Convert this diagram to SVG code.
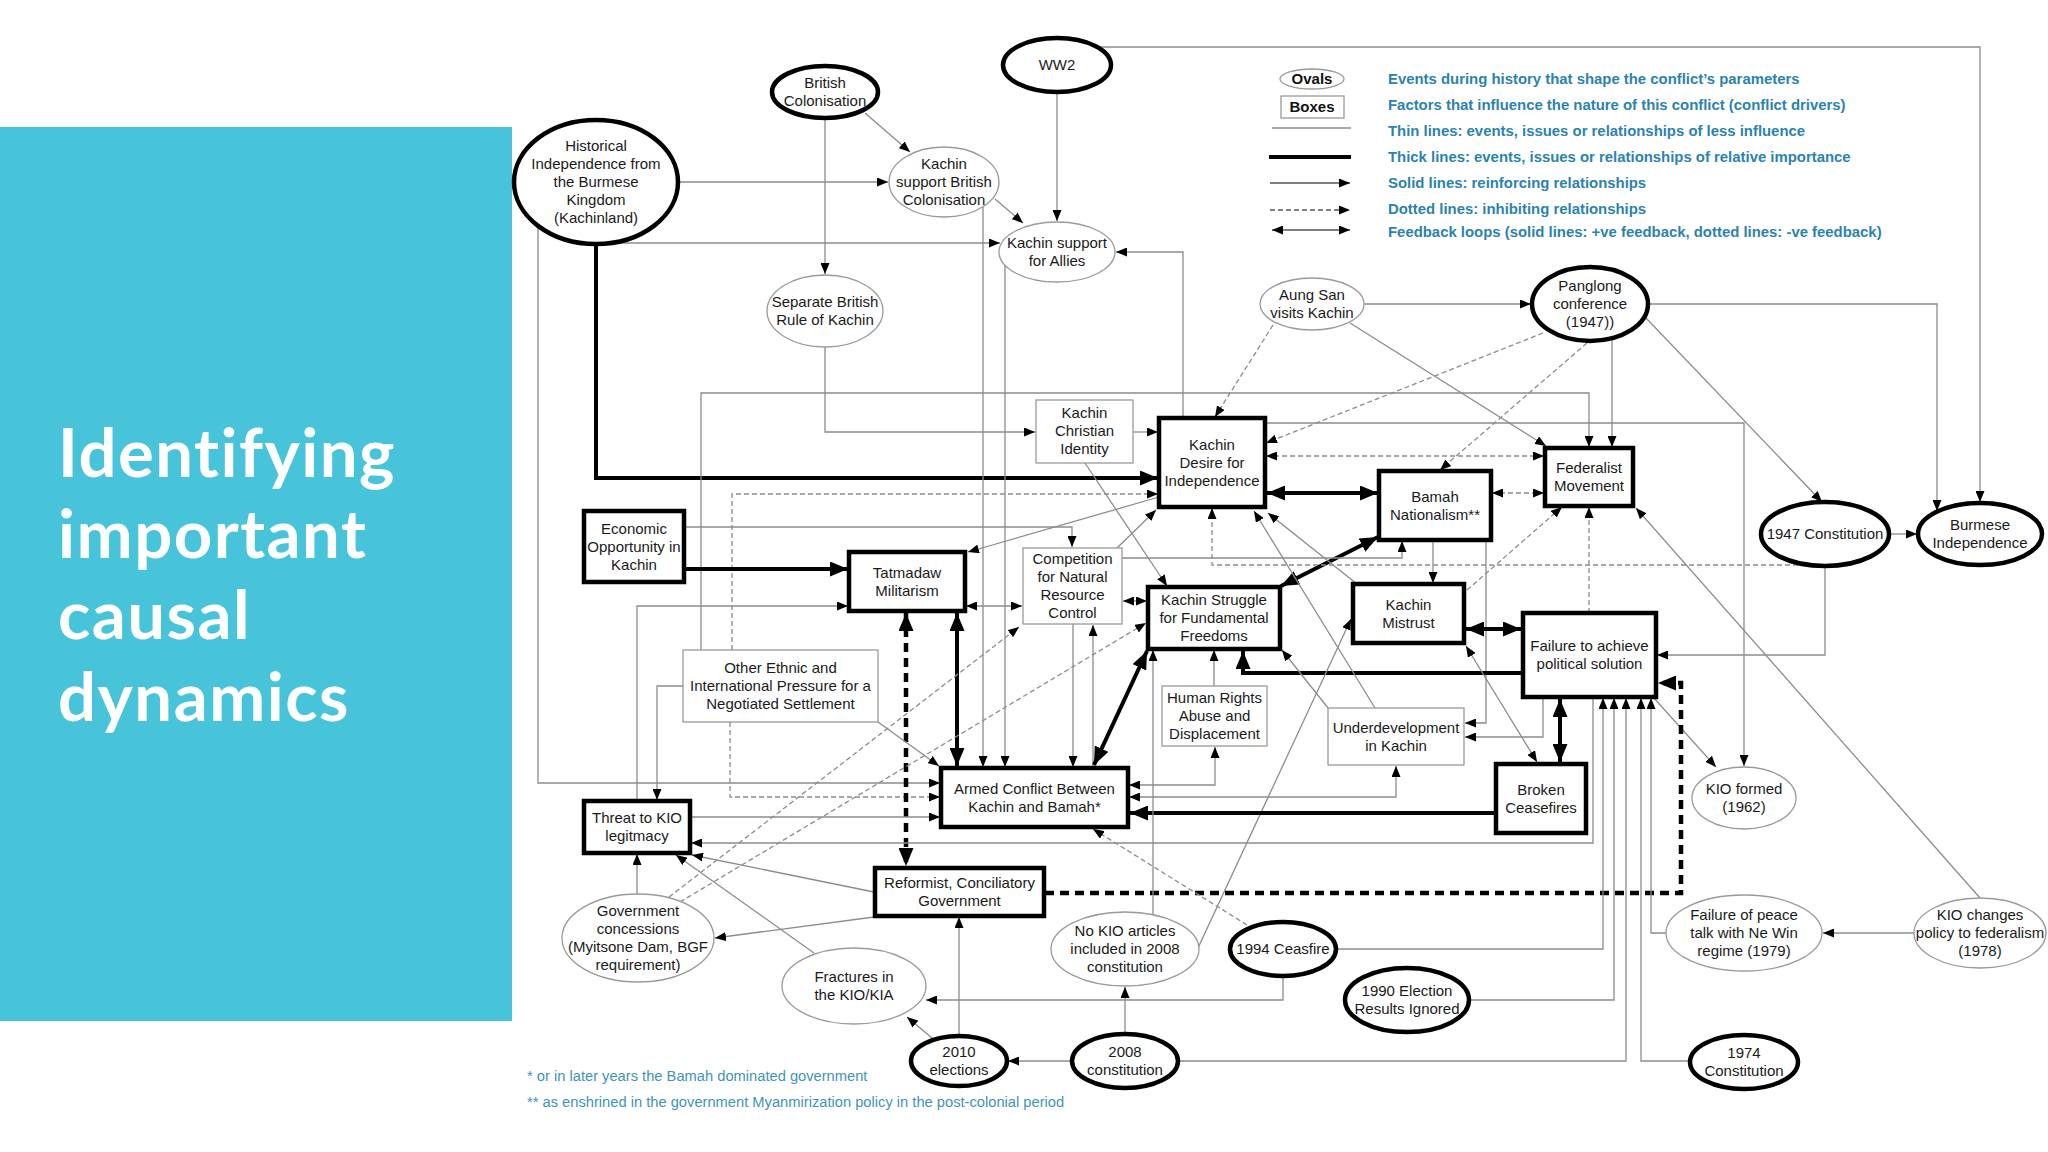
<svg xmlns="http://www.w3.org/2000/svg" width="2048" height="1152" viewBox="0 0 2048 1152">
<style>
.t{font-family:"Liberation Sans",Arial,sans-serif;font-size:15px;text-anchor:middle;fill:#1a1a1a}
.lg{font-family:"Liberation Sans",Arial,sans-serif;font-size:14.9px;font-weight:bold;fill:#2b83ad}
.lb{font-family:"Liberation Sans",Arial,sans-serif;font-size:15px;font-weight:bold;text-anchor:middle;fill:#111}
.fn{font-family:"Liberation Sans",Arial,sans-serif;font-size:14.7px;fill:#3f94b6}
.ti{font-family:Lato,"Open Sans",sans-serif;font-size:67px;font-weight:700;letter-spacing:1.5px;fill:#fff}
.nt{fill:#fff;stroke:#9a9a9a;stroke-width:1.3}
.nk{fill:#fff;stroke:#000;stroke-width:4.5}
.c{fill:none;stroke:#8c8c8c;stroke-width:1.3}
.d{stroke-dasharray:5 3}
.k{fill:none;stroke:#000;stroke-width:4}
.kd{fill:none;stroke:#000;stroke-width:4.5;stroke-dasharray:9 6}
</style>
<defs>
<marker id="a" viewBox="0 0 11 9" refX="11" refY="4.5" markerWidth="11" markerHeight="9" markerUnits="userSpaceOnUse" orient="auto-start-reverse"><path d="M0,0L11,4.5L0,9z" fill="#000"/></marker>
<marker id="A" viewBox="0 0 18 15" refX="18" refY="7.5" markerWidth="18" markerHeight="15" markerUnits="userSpaceOnUse" orient="auto-start-reverse"><path d="M0,0L18,7.5L0,15z" fill="#000"/></marker>
</defs>
<rect width="2048" height="1152" fill="#fff"/>
<rect x="0" y="127" width="512" height="894" fill="#47c3da"/>
<text class="ti" x="58" y="477"><tspan x="58">Identifying</tspan><tspan x="58" dy="81">important</tspan><tspan x="58" dy="81">causal</tspan><tspan x="58" dy="82">dynamics</tspan></text>

<g id="legend">
<ellipse cx="1312" cy="79" rx="32" ry="10" class="nt"/>
<text class="lb" x="1312" y="84">Ovals</text>
<rect x="1281" y="96" width="63" height="22" class="nt"/>
<text class="lb" x="1312" y="112">Boxes</text>
<path class="c" d="M1272,128H1351"/>
<path class="k" d="M1269,157H1351"/>
<path class="c" style="stroke:#555" d="M1270,183H1350" marker-end="url(#a)"/>
<path class="c d" style="stroke:#555" d="M1270,210H1350" marker-end="url(#a)"/>
<path class="c" style="stroke:#555" d="M1272,230H1350" marker-start="url(#a)" marker-end="url(#a)"/>
<text class="lg" x="1388" y="84">Events during history that shape the conflict’s parameters</text>
<text class="lg" x="1388" y="110">Factors that influence the nature of this conflict (conflict drivers)</text>
<text class="lg" x="1388" y="136">Thin lines: events, issues or relationships of less influence</text>
<text class="lg" x="1388" y="162">Thick lines: events, issues or relationships of relative importance</text>
<text class="lg" x="1388" y="188">Solid lines: reinforcing relationships</text>
<text class="lg" x="1388" y="214">Dotted lines: inhibiting relationships</text>
<text class="lg" x="1388" y="237">Feedback loops (solid lines: +ve feedback, dotted lines: -ve feedback)</text>
</g>

<g id="connectors">
<path class="c" d="M865,113L910,152" marker-end="url(#a)"/>
<path class="c" d="M825,118V274" marker-end="url(#a)"/>
<path class="c" d="M678,182H888" marker-end="url(#a)"/>
<path class="c" d="M612,243H1000" marker-end="url(#a)"/>
<path class="c" d="M995,199L1023,223" marker-end="url(#a)"/>
<path class="c" d="M1057,92V221" marker-end="url(#a)"/>
<path class="c" d="M1183,418V252H1116" marker-end="url(#a)"/>
<path class="c" d="M538,226V783H940" marker-end="url(#a)"/>
<path class="k" d="M596,244V478H1158" marker-end="url(#A)"/>
<path class="c" d="M825,347V432H1035" marker-end="url(#a)"/>
<path class="c" d="M1133,432H1158" marker-end="url(#a)"/>
<path class="c" d="M1085,463L1167,586" marker-end="url(#a)"/>
<path class="c" d="M701,650V393H1589V447" marker-end="url(#a)"/>
<path class="c" d="M1612,340V447" marker-end="url(#a)"/>
<path class="c" d="M1265,423H1744V766" marker-end="url(#a)"/>
<path class="c d" d="M1543,333L1266,443" marker-end="url(#a)"/>
<path class="c d" d="M1587,343L1440,470" marker-end="url(#a)"/>
<path class="c d" d="M1273,325L1215,417" marker-end="url(#a)"/>
<path class="c" d="M1350,323L1546,446" marker-end="url(#a)"/>
<path class="c" d="M1364,304H1531" marker-end="url(#a)"/>
<path class="c" d="M1646,318L1822,502" marker-end="url(#a)"/>
<path class="c" d="M1100,47H1980V502" marker-end="url(#a)"/>
<path class="c" d="M1648,304H1937V511" marker-end="url(#a)"/>
<path class="c" d="M1889,534H1917" marker-end="url(#a)"/>
<path class="k" d="M1267,493H1378" marker-start="url(#A)" marker-end="url(#A)"/>
<path class="c d" d="M1492,493H1544" marker-start="url(#a)" marker-end="url(#a)"/>
<path class="c d" d="M1266,456H1544" marker-start="url(#a)" marker-end="url(#a)"/>
<path class="c" d="M1433,540V583" marker-end="url(#a)"/>
<path class="k" d="M1281,586L1378,537" marker-start="url(#A)" marker-end="url(#A)"/>
<path class="c" d="M1122,558H1402V541" marker-end="url(#a)"/>
<path class="c" d="M1486,540V723H1465" marker-end="url(#a)"/>
<path class="c" d="M1543,697V737H1465" marker-end="url(#a)"/>
<path class="c d" d="M1467,590L1562,507" marker-end="url(#a)"/>
<path class="c d" d="M1589,613V507" marker-end="url(#a)"/>
<path class="c" d="M1980,898L1636,508" marker-end="url(#a)"/>
<path class="c d" d="M1798,565H1212V508" marker-end="url(#a)"/>
<path class="c" d="M1653,697L1716,767" marker-end="url(#a)"/>
<path class="c" d="M1825,566V655H1657" marker-end="url(#a)"/>
<path class="kd" d="M1045,893H1681V683H1658" marker-end="url(#A)"/>
<path class="k" d="M1560,699V762" marker-start="url(#A)" marker-end="url(#A)"/>
<path class="k" d="M1523,673H1243V651" marker-end="url(#A)"/>
<path class="k" d="M1466,629H1521" marker-start="url(#A)" marker-end="url(#A)"/>
<path class="c" d="M1198,948L1351,619" marker-end="url(#a)"/>
<path class="k" d="M1496,813H1130" marker-end="url(#A)"/>
<path class="c" d="M1129,785H1215V747" marker-start="url(#a)" marker-end="url(#a)"/>
<path class="c" d="M1129,797H1396V766" marker-start="url(#a)" marker-end="url(#a)"/>
<path class="c" d="M1214,686V650" marker-end="url(#a)"/>
<path class="c d" d="M1123,601H1147" marker-start="url(#a)" marker-end="url(#a)"/>
<path class="c" d="M966,606H1022" marker-start="url(#a)" marker-end="url(#a)"/>
<path class="c" d="M1159,497L968,552" marker-end="url(#a)"/>
<path class="c d" d="M732,650V494H1158" marker-end="url(#a)"/>
<path class="c d" d="M730,722V797H940" marker-end="url(#a)"/>
<path class="c" d="M684,527H1072V547" marker-end="url(#a)"/>
<path class="k" d="M684,569H848" marker-end="url(#A)"/>
<path class="c" d="M637,801V606H848" marker-end="url(#a)"/>
<path class="c" d="M683,686H657V800" marker-end="url(#a)"/>
<path class="k" d="M957,613V766" marker-start="url(#A)" marker-end="url(#A)"/>
<path class="kd" d="M906,613V866" marker-start="url(#A)" marker-end="url(#A)"/>
<path class="c d" d="M669,897L1019,627" marker-end="url(#a)"/>
<path class="c d" d="M680,902L1146,623" marker-end="url(#a)"/>
<path class="c" d="M878,722L939,766" marker-end="url(#a)"/>
<path class="c" d="M1117,548L1156,510" marker-end="url(#a)"/>
<path class="c" d="M1375,708L1254,511" marker-end="url(#a)"/>
<path class="c" d="M1328,708L1282,650" marker-end="url(#a)"/>
<path class="c" d="M1357,584L1268,513" marker-end="url(#a)"/>
<path class="c" d="M1537,762L1466,646" marker-start="url(#a)" marker-end="url(#a)"/>
<path class="c" d="M983,207V767" marker-end="url(#a)"/>
<path class="c" d="M1005,265V767" marker-end="url(#a)"/>
<path class="c" d="M1073,624V767" marker-end="url(#a)"/>
<path class="c" d="M1093,767V625" marker-end="url(#a)"/>
<path class="k" d="M1094,765L1147,651" marker-start="url(#A)" marker-end="url(#A)"/>
<path class="c" d="M1153,915V650" marker-end="url(#a)"/>
<path class="c d" d="M1247,925L1093,829" marker-end="url(#a)"/>
<path class="c" d="M690,817H940" marker-end="url(#a)"/>
<path class="c" d="M1593,697V843H691" marker-end="url(#a)"/>
<path class="c" d="M874,892L692,855" marker-end="url(#a)"/>
<path class="c" d="M814,953L676,855" marker-end="url(#a)"/>
<path class="c" d="M637,894V854" marker-end="url(#a)"/>
<path class="c" d="M874,917L715,938" marker-end="url(#a)"/>
<path class="c" d="M959,1036V917" marker-end="url(#a)"/>
<path class="c" d="M932,1038L907,1017" marker-end="url(#a)"/>
<path class="c" d="M1283,976V1000H926" marker-end="url(#a)"/>
<path class="c" d="M1072,1061H1008" marker-end="url(#a)"/>
<path class="c" d="M1125,1034V987" marker-end="url(#a)"/>
<path class="c" d="M1178,1061H1626V698" marker-end="url(#a)"/>
<path class="c" d="M1336,949H1603V698" marker-end="url(#a)"/>
<path class="c" d="M1469,1000H1614V698" marker-end="url(#a)"/>
<path class="c" d="M1690,1061H1641V698" marker-end="url(#a)"/>
<path class="c" d="M1666,933H1651V698" marker-end="url(#a)"/>
<path class="c" d="M1914,933H1823" marker-end="url(#a)"/>
</g>

<g id="n-british"><ellipse cx="825" cy="92" rx="53" ry="26" class="nk"/><text class="t" x="825" y="88"><tspan x="825">British</tspan><tspan x="825" dy="18">Colonisation</tspan></text></g>
<g id="n-ww2"><ellipse cx="1057" cy="65" rx="54" ry="27" class="nk"/><text class="t" x="1057" y="70">WW2</text></g>
<g id="n-hist"><ellipse cx="596" cy="182" rx="82" ry="62" class="nk"/><text class="t" x="596" y="151"><tspan x="596">Historical</tspan><tspan x="596" dy="18">Independence from</tspan><tspan x="596" dy="18">the Burmese</tspan><tspan x="596" dy="18">Kingdom</tspan><tspan x="596" dy="18">(Kachinland)</tspan></text></g>
<g id="n-ksbc"><ellipse cx="944" cy="182" rx="55" ry="35" class="nt"/><text class="t" x="944" y="169"><tspan x="944">Kachin</tspan><tspan x="944" dy="18">support British</tspan><tspan x="944" dy="18">Colonisation</tspan></text></g>
<g id="n-allies"><ellipse cx="1057" cy="252" rx="58" ry="30" class="nt"/><text class="t" x="1057" y="248"><tspan x="1057">Kachin support</tspan><tspan x="1057" dy="18">for Allies</tspan></text></g>
<g id="n-separate"><ellipse cx="825" cy="311" rx="58" ry="36" class="nt"/><text class="t" x="825" y="307"><tspan x="825">Separate British</tspan><tspan x="825" dy="18">Rule of Kachin</tspan></text></g>
<g id="n-aungsan"><ellipse cx="1312" cy="304" rx="52" ry="26" class="nt"/><text class="t" x="1312" y="300"><tspan x="1312">Aung San</tspan><tspan x="1312" dy="18">visits Kachin</tspan></text></g>
<g id="n-panglong"><ellipse cx="1590" cy="304" rx="58" ry="37" class="nk"/><text class="t" x="1590" y="291"><tspan x="1590">Panglong</tspan><tspan x="1590" dy="18">conference</tspan><tspan x="1590" dy="18">(1947))</tspan></text></g>
<g id="n-1947"><ellipse cx="1825" cy="534" rx="64" ry="32" class="nk"/><text class="t" x="1825" y="539">1947 Constitution</text></g>
<g id="n-burmese"><ellipse cx="1980" cy="534" rx="62" ry="31" class="nk"/><text class="t" x="1980" y="530"><tspan x="1980">Burmese</tspan><tspan x="1980" dy="18">Independence</tspan></text></g>
<g id="n-concessions"><ellipse cx="638" cy="938" rx="76" ry="44" class="nt"/><text class="t" x="638" y="916"><tspan x="638">Government</tspan><tspan x="638" dy="18">concessions</tspan><tspan x="638" dy="18">(Myitsone Dam, BGF</tspan><tspan x="638" dy="18">requirement)</tspan></text></g>
<g id="n-fractures"><ellipse cx="854" cy="986" rx="72" ry="38" class="nt"/><text class="t" x="854" y="982"><tspan x="854">Fractures in</tspan><tspan x="854" dy="18">the KIO/KIA</tspan></text></g>
<g id="n-2010"><ellipse cx="959" cy="1061" rx="48" ry="25" class="nk"/><text class="t" x="959" y="1057"><tspan x="959">2010</tspan><tspan x="959" dy="18">elections</tspan></text></g>
<g id="n-2008"><ellipse cx="1125" cy="1061" rx="53" ry="27" class="nk"/><text class="t" x="1125" y="1057"><tspan x="1125">2008</tspan><tspan x="1125" dy="18">constitution</tspan></text></g>
<g id="n-nokio"><ellipse cx="1125" cy="949" rx="74" ry="37" class="nt"/><text class="t" x="1125" y="936"><tspan x="1125">No KIO articles</tspan><tspan x="1125" dy="18">included in 2008</tspan><tspan x="1125" dy="18">constitution</tspan></text></g>
<g id="n-1994"><ellipse cx="1283" cy="949" rx="53" ry="27" class="nk"/><text class="t" x="1283" y="954">1994 Ceasfire</text></g>
<g id="n-1990"><ellipse cx="1407" cy="1000" rx="62" ry="32" class="nk"/><text class="t" x="1407" y="996"><tspan x="1407">1990 Election</tspan><tspan x="1407" dy="18">Results Ignored</tspan></text></g>
<g id="n-kioformed"><ellipse cx="1744" cy="798" rx="52" ry="31" class="nt"/><text class="t" x="1744" y="794"><tspan x="1744">KIO formed</tspan><tspan x="1744" dy="18">(1962)</tspan></text></g>
<g id="n-peacetalk"><ellipse cx="1744" cy="933" rx="78" ry="38" class="nt"/><text class="t" x="1744" y="920"><tspan x="1744">Failure of peace</tspan><tspan x="1744" dy="18">talk with Ne Win</tspan><tspan x="1744" dy="18">regime (1979)</tspan></text></g>
<g id="n-kiochanges"><ellipse cx="1980" cy="933" rx="66" ry="35" class="nt"/><text class="t" x="1980" y="920"><tspan x="1980">KIO changes</tspan><tspan x="1980" dy="18">policy to federalism</tspan><tspan x="1980" dy="18">(1978)</tspan></text></g>
<g id="n-1974"><ellipse cx="1744" cy="1062" rx="54" ry="27" class="nk"/><text class="t" x="1744" y="1058"><tspan x="1744">1974</tspan><tspan x="1744" dy="18">Constitution</tspan></text></g>

<g id="n-desire"><rect x="1159" y="418" width="106" height="89" class="nk"/><text class="t" x="1212" y="450"><tspan x="1212">Kachin</tspan><tspan x="1212" dy="18">Desire for</tspan><tspan x="1212" dy="18">Independence</tspan></text></g>
<g id="n-christian"><rect x="1036" y="400" width="97" height="63" class="nt"/><text class="t" x="1084.5" y="418"><tspan x="1084.5">Kachin</tspan><tspan x="1084.5" dy="18">Christian</tspan><tspan x="1084.5" dy="18">Identity</tspan></text></g>
<g id="n-competition"><rect x="1023" y="548" width="99" height="76" class="nt"/><text class="t" x="1072.5" y="564"><tspan x="1072.5">Competition</tspan><tspan x="1072.5" dy="18">for Natural</tspan><tspan x="1072.5" dy="18">Resource</tspan><tspan x="1072.5" dy="18">Control</tspan></text></g>
<g id="n-struggle"><rect x="1148" y="587" width="132" height="62" class="nk"/><text class="t" x="1214" y="605"><tspan x="1214">Kachin Struggle</tspan><tspan x="1214" dy="18">for Fundamental</tspan><tspan x="1214" dy="18">Freedoms</tspan></text></g>
<g id="n-humanrights"><rect x="1162" y="686" width="105" height="60" class="nt"/><text class="t" x="1214.5" y="703"><tspan x="1214.5">Human Rights</tspan><tspan x="1214.5" dy="18">Abuse and</tspan><tspan x="1214.5" dy="18">Displacement</tspan></text></g>
<g id="n-tatmadaw"><rect x="849" y="552" width="116" height="59" class="nk"/><text class="t" x="907" y="577.5"><tspan x="907">Tatmadaw</tspan><tspan x="907" dy="18">Militarism</tspan></text></g>
<g id="n-economic"><rect x="584" y="511" width="100" height="71" class="nk"/><text class="t" x="634" y="533.5"><tspan x="634">Economic</tspan><tspan x="634" dy="18">Opportunity in</tspan><tspan x="634" dy="18">Kachin</tspan></text></g>
<g id="n-otherethnic"><rect x="683" y="650" width="195" height="72" class="nt"/><text class="t" x="780.5" y="673"><tspan x="780.5">Other Ethnic and</tspan><tspan x="780.5" dy="18">International Pressure for a</tspan><tspan x="780.5" dy="18">Negotiated Settlement</tspan></text></g>
<g id="n-bamah"><rect x="1379" y="471" width="112" height="69" class="nk"/><text class="t" x="1435" y="501.5"><tspan x="1435">Bamah</tspan><tspan x="1435" dy="18">Nationalism**</tspan></text></g>
<g id="n-federalist"><rect x="1545" y="448" width="88" height="58" class="nk"/><text class="t" x="1589" y="473"><tspan x="1589">Federalist</tspan><tspan x="1589" dy="18">Movement</tspan></text></g>
<g id="n-mistrust"><rect x="1353" y="584" width="111" height="59" class="nk"/><text class="t" x="1408.5" y="609.5"><tspan x="1408.5">Kachin</tspan><tspan x="1408.5" dy="18">Mistrust</tspan></text></g>
<g id="n-failure"><rect x="1523" y="613" width="133" height="84" class="nk"/><text class="t" x="1589.5" y="651"><tspan x="1589.5">Failure to achieve</tspan><tspan x="1589.5" dy="18">political solution</tspan></text></g>
<g id="n-underdev"><rect x="1328" y="708" width="136" height="57" class="nt"/><text class="t" x="1396" y="732.5"><tspan x="1396">Underdevelopment</tspan><tspan x="1396" dy="18">in Kachin</tspan></text></g>
<g id="n-broken"><rect x="1496" y="764" width="90" height="69" class="nk"/><text class="t" x="1541" y="794.5"><tspan x="1541">Broken</tspan><tspan x="1541" dy="18">Ceasefires</tspan></text></g>
<g id="n-armed"><rect x="941" y="768" width="187" height="59" class="nk"/><text class="t" x="1034.5" y="793.5"><tspan x="1034.5">Armed Conflict Between</tspan><tspan x="1034.5" dy="18">Kachin and Bamah*</tspan></text></g>
<g id="n-reformist"><rect x="875" y="868" width="169" height="48" class="nk"/><text class="t" x="959.5" y="888"><tspan x="959.5">Reformist, Conciliatory</tspan><tspan x="959.5" dy="18">Government</tspan></text></g>
<g id="n-threat"><rect x="584" y="801" width="106" height="52" class="nk"/><text class="t" x="637" y="823"><tspan x="637">Threat to KIO</tspan><tspan x="637" dy="18">legitmacy</tspan></text></g>

<text class="fn" x="527" y="1081">* or in later years the Bamah dominated government</text>
<text class="fn" x="527" y="1107">** as enshrined in the government Myanmirization policy in the post-colonial period</text>
</svg>
